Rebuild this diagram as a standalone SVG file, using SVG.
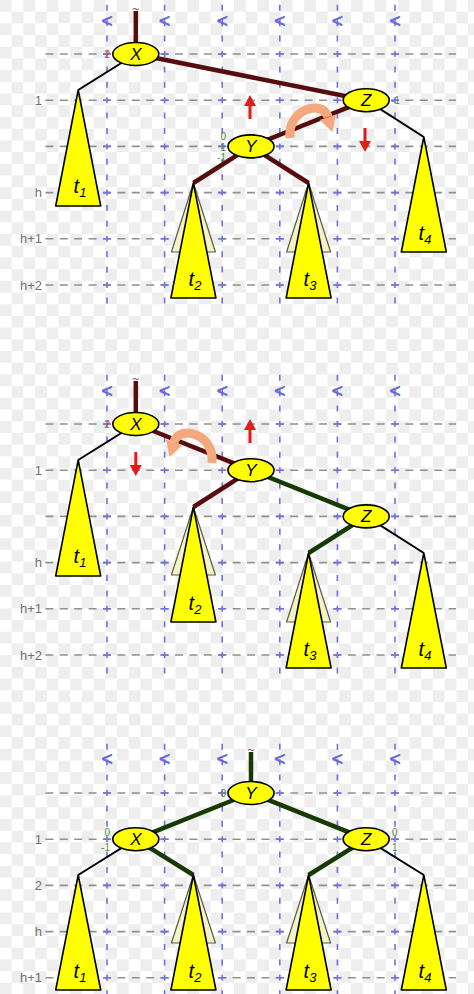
<svg xmlns="http://www.w3.org/2000/svg" width="474" height="994" viewBox="0 0 474 994">
<defs>
<pattern id="checker" width="23.4" height="23.4" patternUnits="userSpaceOnUse">
<rect width="23.4" height="23.4" fill="#ffffff"/>
<rect width="11.7" height="11.7" fill="#eeeeee"/>
<rect x="11.7" y="11.7" width="11.7" height="11.7" fill="#eeeeee"/>
</pattern>
<style>
.hl{stroke:#909090;stroke-width:1.6;stroke-dasharray:8 6.4;fill:none}
.hx{stroke:#7070e0;stroke-width:1.6;stroke-dasharray:8 49.6;fill:none}
.vl{stroke:#7070e0;stroke-width:1.6;stroke-dasharray:6 9.4;fill:none}
.lt{fill:#6666dd;stroke:#6666dd;stroke-width:0.7;font-family:"Liberation Sans",Arial,sans-serif;font-size:19px;text-anchor:middle}
.rl{fill:#707070;font-family:"Liberation Sans",Arial,sans-serif;font-size:13px;text-anchor:end}
.node ellipse{fill:#ffff00;stroke:#000;stroke-width:1.6}
.node text.n{font-family:"Liberation Sans",Arial,sans-serif;font-style:italic;font-size:17px;text-anchor:middle;fill:#000}
.br{fill:#dd3333;font-family:"Liberation Sans",Arial,sans-serif;font-size:10px}
.bg{fill:#4f8f3a;font-family:"Liberation Sans",Arial,sans-serif;font-size:10px}
.main{fill:#ffff00;stroke:#000;stroke-width:1.6;stroke-linejoin:round}
.ghost{fill:#f3f3c6;stroke:#5a5a4a;stroke-width:1.2;stroke-linejoin:round}
.tl{font-family:"Liberation Sans",Arial,sans-serif;font-style:italic;font-size:20px;text-anchor:middle;fill:#000}
.em{stroke:#550d0d;stroke-width:4.5;fill:none}
.eg{stroke:#173a05;stroke-width:4.5;fill:none}
.et{stroke:#000;stroke-width:2;fill:none}
.til{fill:#8a5050;font-family:"DejaVu Sans",sans-serif;font-size:10px;text-anchor:middle}
.rot{stroke:#f5a87e;stroke-width:9;fill:none}
.roth{fill:#f5a87e}
.red{fill:#e51a1a}
</style>
</defs>
<rect width="474" height="994" fill="url(#checker)"/>

<g id="grid1">
<path class="vl" d="M107,-10.6V305M164.6,-10.6V305M222.2,-10.6V305M279.8,-10.6V305M337.4,-10.6V305M395,-10.6V305"/>
<path class="hl" d="M45.4,54H456M45.4,100.2H456M45.4,146.4H456M45.4,192.6H456M45.4,238.8H456M45.4,285H456"/>
<path class="hx" d="M103,54H400M103,100.2H400M103,146.4H400M103,192.6H400M103,238.8H400M103,285H400"/>
<text class="lt" x="107" y="26.5">&lt;</text><text class="lt" x="164.6" y="26.5">&lt;</text><text class="lt" x="222.2" y="26.5">&lt;</text><text class="lt" x="279.8" y="26.5">&lt;</text><text class="lt" x="337.4" y="26.5">&lt;</text><text class="lt" x="395" y="26.5">&lt;</text>
<text class="rl" x="42" y="104.7">1</text>
<text class="rl" x="42" y="197.1">h</text>
<text class="rl" x="42" y="243.3">h+1</text>
<text class="rl" x="42" y="289.5">h+2</text>
</g>

<g id="grid2">
<path class="vl" d="M107,374.8V675M164.6,374.8V675M222.2,374.8V675M279.8,374.8V675M337.4,374.8V675M395,374.8V675"/>
<path class="hl" d="M45.4,424H456M45.4,470.2H456M45.4,516.4H456M45.4,562.6H456M45.4,608.8H456M45.4,655H456"/>
<path class="hx" d="M103,424H400M103,470.2H400M103,516.4H400M103,562.6H400M103,608.8H400M103,655H400"/>
<text class="lt" x="107" y="396.5">&lt;</text><text class="lt" x="164.6" y="396.5">&lt;</text><text class="lt" x="222.2" y="396.5">&lt;</text><text class="lt" x="279.8" y="396.5">&lt;</text><text class="lt" x="337.4" y="396.5">&lt;</text><text class="lt" x="395" y="396.5">&lt;</text>
<text class="rl" x="42" y="474.7">1</text>
<text class="rl" x="42" y="567.1">h</text>
<text class="rl" x="42" y="613.3">h+1</text>
<text class="rl" x="42" y="659.5">h+2</text>
</g>

<g id="grid3">
<path class="vl" d="M107,743.8V994M164.6,743.8V994M222.2,743.8V994M279.8,743.8V994M337.4,743.8V994M395,743.8V994"/>
<path class="hl" d="M45.4,793H456M45.4,839.2H456M45.4,885.4H456M45.4,931.6H456M45.4,977.8H456"/>
<path class="hx" d="M103,793H400M103,839.2H400M103,885.4H400M103,931.6H400M103,977.8H400"/>
<text class="lt" x="107" y="764.5">&lt;</text><text class="lt" x="164.6" y="764.5">&lt;</text><text class="lt" x="222.2" y="764.5">&lt;</text><text class="lt" x="279.8" y="764.5">&lt;</text><text class="lt" x="337.4" y="764.5">&lt;</text><text class="lt" x="395" y="764.5">&lt;</text>
<text class="rl" x="42" y="843.7">1</text>
<text class="rl" x="42" y="889.9">2</text>
<text class="rl" x="42" y="936.1">h</text>
<text class="rl" x="42" y="982.3">h+1</text>
</g>

<g id="connectors">
<path class="em" d="M135.8,11V54"/>
<path class="em" d="M135.8,54L366.2,100.2"/>
<path class="em" d="M366.2,100.2L251,146.4"/>
<path class="em" d="M251,146.4L193.4,183"/>
<path class="em" d="M251,146.4L308.6,183"/>
<path class="et" d="M135.8,54L78.2,90"/>
<path class="et" d="M366.2,100.2L423.8,137"/>
<path class="em" d="M135.8,381V424"/>
<path class="et" d="M135.8,424L78.2,460"/>
<path class="em" d="M135.8,424L251,470.2"/>
<path class="em" d="M251,470.2L193.4,507"/>
<path class="eg" d="M251,470.2L366.2,516.4"/>
<path class="eg" d="M366.2,516.4L308.6,553"/>
<path class="et" d="M366.2,516.4L423.8,553"/>
<path class="eg" d="M251,752V793"/>
<path class="eg" d="M251,793L135.8,839.2"/>
<path class="eg" d="M251,793L366.2,839.2"/>
<path class="et" d="M135.8,839.2L78.2,875"/>
<path class="eg" d="M135.8,839.2L193.4,875"/>
<path class="eg" d="M366.2,839.2L308.6,875"/>
<path class="et" d="M366.2,839.2L423.8,875"/>
</g>

<g id="marks">
<text class="til" x="135.8" y="13">~</text>
<text class="til" x="135.8" y="383">~</text>
<text class="til" x="251" y="754">~</text>
<path class="rot" d="M290,138C287,109 323,99 328,117"/>
<polygon class="roth" points="336,114.5 319.6,120 332.4,132"/>
<path class="rot" d="M212,463C215,434 179,424 174,442"/>
<polygon class="roth" points="166,439.5 182.4,445 169.6,457"/>
<path class="red" d="M250,95L256,106H251.5V119H248.5V106H244Z"/>
<path class="red" d="M365,152L359,141H363.5V128H366.5V141H371Z"/>
<path class="red" d="M135.8,476L129.8,465H134.3V452H137.3V465H141.8Z"/>
<path class="red" d="M250,419L256,430H251.5V443H248.5V430H244Z"/>
</g>

<g id="t1-p1"><polygon class="main" points="78.2,90 100.7,206 55.7,206"/><text class="tl" x="80" y="193">t<tspan font-size="13" dy="4">1</tspan></text></g>
<g id="t2-p1"><polygon class="ghost" points="193.4,183 215.4,252 171.4,252"/><polygon class="main" points="193.4,183 215.9,298 170.9,298"/><text class="tl" x="195" y="286">t<tspan font-size="13" dy="4">2</tspan></text></g>
<g id="t3-p1"><polygon class="ghost" points="308.6,183 330.6,252 286.6,252"/><polygon class="main" points="308.6,183 331.1,298 286.1,298"/><text class="tl" x="310" y="286">t<tspan font-size="13" dy="4">3</tspan></text></g>
<g id="t4-p1"><polygon class="main" points="423.8,137 446.3,252 401.3,252"/><text class="tl" x="425" y="240">t<tspan font-size="13" dy="4">4</tspan></text></g>

<g id="t1-p2"><polygon class="main" points="78.2,460 100.7,576 55.7,576"/><text class="tl" x="80" y="563">t<tspan font-size="13" dy="4">1</tspan></text></g>
<g id="t2-p2"><polygon class="ghost" points="193.4,507 215.4,575 171.4,575"/><polygon class="main" points="193.4,507 215.9,622 170.9,622"/><text class="tl" x="195" y="610">t<tspan font-size="13" dy="4">2</tspan></text></g>
<g id="t3-p2"><polygon class="ghost" points="308.6,553 330.6,622 286.6,622"/><polygon class="main" points="308.6,553 331.1,668 286.1,668"/><text class="tl" x="310" y="656">t<tspan font-size="13" dy="4">3</tspan></text></g>
<g id="t4-p2"><polygon class="main" points="423.8,553 446.3,668 401.3,668"/><text class="tl" x="425" y="656">t<tspan font-size="13" dy="4">4</tspan></text></g>

<g id="t1-p3"><polygon class="main" points="78.2,875 100.7,990 55.7,990"/><text class="tl" x="80" y="978">t<tspan font-size="13" dy="4">1</tspan></text></g>
<g id="t2-p3"><polygon class="ghost" points="193.4,875 215.4,943 171.4,943"/><polygon class="main" points="193.4,875 215.9,990 170.9,990"/><text class="tl" x="195" y="978">t<tspan font-size="13" dy="4">2</tspan></text></g>
<g id="t3-p3"><polygon class="ghost" points="308.6,875 330.6,943 286.6,943"/><polygon class="main" points="308.6,875 331.1,990 286.1,990"/><text class="tl" x="310" y="978">t<tspan font-size="13" dy="4">3</tspan></text></g>
<g id="t4-p3"><polygon class="main" points="423.8,875 446.3,990 401.3,990"/><text class="tl" x="425" y="978">t<tspan font-size="13" dy="4">4</tspan></text></g>

<g id="X-p1" class="node"><ellipse cx="135.8" cy="54" rx="23" ry="11.5"/><text class="n" x="135.8" y="60">X</text><text class="br" x="110" y="57.5" text-anchor="end">2</text></g>
<g id="Z-p1" class="node"><ellipse cx="366.2" cy="100.2" rx="23" ry="11.5"/><text class="n" x="366.2" y="106.2">Z</text><text class="bg" x="391" y="104">-1</text></g>
<g id="Y-p1" class="node"><ellipse cx="251" cy="146.4" rx="23" ry="11.5"/><text class="n" x="251" y="152.4">Y</text><text class="bg" x="226" y="140" text-anchor="end">0</text><text class="bg" x="226" y="150.5" text-anchor="end">1</text><text class="bg" x="226" y="161" text-anchor="end">-1</text></g>

<g id="X-p2" class="node"><ellipse cx="135.8" cy="424" rx="23" ry="11.5"/><text class="n" x="135.8" y="430">X</text><text class="br" x="110" y="427.5" text-anchor="end">2</text></g>
<g id="Y-p2" class="node"><ellipse cx="251" cy="470.2" rx="23" ry="11.5"/><text class="n" x="251" y="476.2">Y</text></g>
<g id="Z-p2" class="node"><ellipse cx="366.2" cy="516.4" rx="23" ry="11.5"/><text class="n" x="366.2" y="522.4">Z</text></g>

<g id="Y-p3" class="node"><ellipse cx="251" cy="793" rx="23" ry="11.5"/><text class="n" x="251" y="799">Y</text><text class="bg" x="226" y="796.5" text-anchor="end">0</text></g>
<g id="X-p3" class="node"><ellipse cx="135.8" cy="839.2" rx="23" ry="11.5"/><text class="n" x="135.8" y="845.2">X</text><text class="bg" x="110" y="836" text-anchor="end">0</text><text class="bg" x="110" y="851" text-anchor="end">-1</text></g>
<g id="Z-p3" class="node"><ellipse cx="366.2" cy="839.2" rx="23" ry="11.5"/><text class="n" x="366.2" y="845.2">Z</text><text class="bg" x="392" y="836">0</text><text class="bg" x="392" y="851">1</text></g>
</svg>
